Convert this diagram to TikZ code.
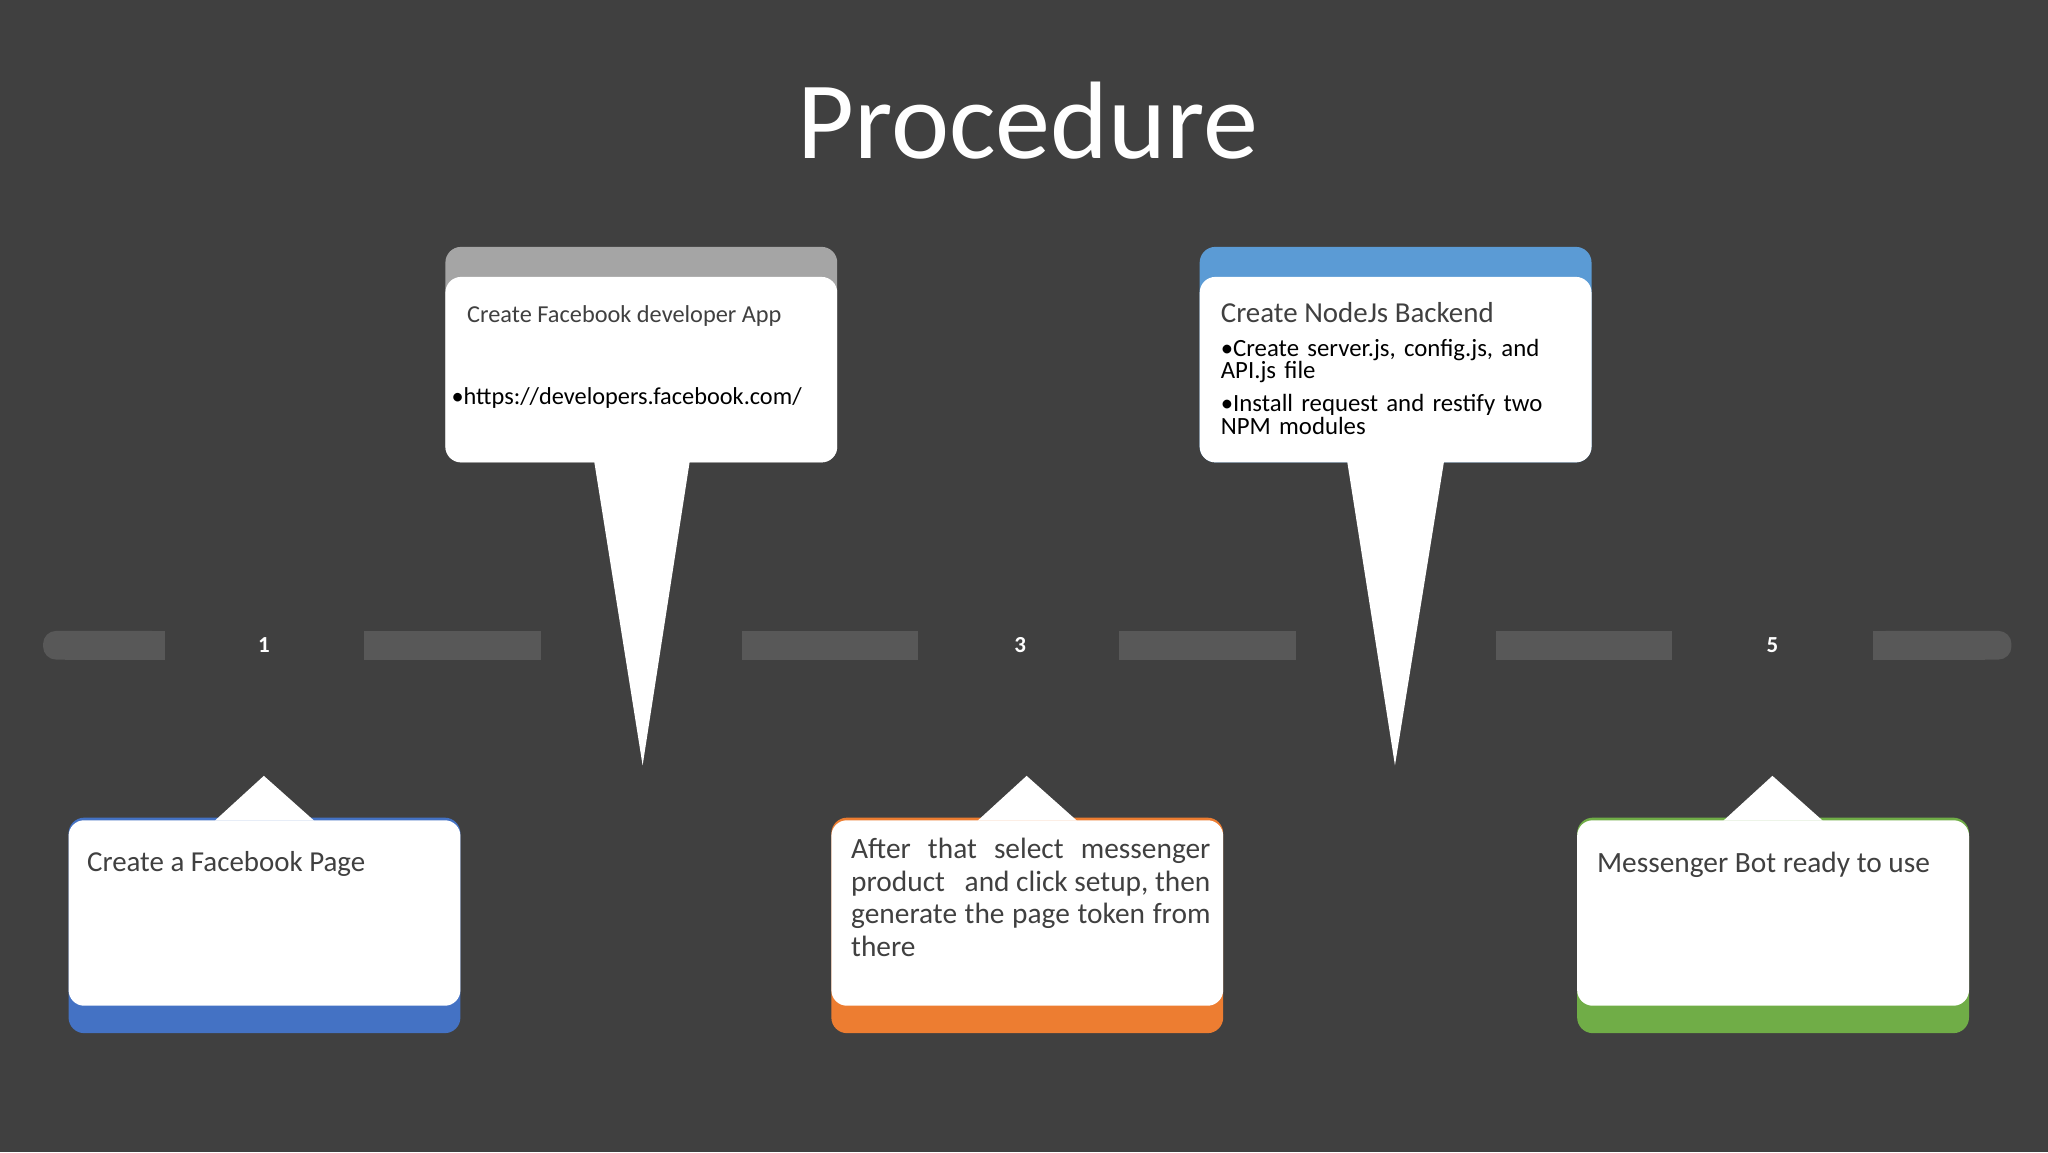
\documentclass[tikz,border=0pt]{standalone}
\usepackage{fontspec}
\setmainfont{Carlito}
\usetikzlibrary{positioning,calc}
\definecolor{bgdark}{RGB}{64,64,64}
\definecolor{bargray}{RGB}{88,88,88}
\definecolor{hdgray}{RGB}{165,165,165}
\definecolor{hdblue}{RGB}{91,155,213}
\definecolor{ftblue}{RGB}{68,114,196}
\definecolor{ftorange}{RGB}{237,125,49}
\definecolor{ftgreen}{RGB}{112,173,71}
\tikzset{
  panel/.style={
    rectangle,
    rounded corners=0.12cm,
    fill=white,
    minimum width=3.0cm,
    minimum height=1.42cm,
    inner sep=0pt},
  band/.style={
    rectangle,
    rounded corners=0.12cm,
    minimum width=3.0cm,
    minimum height=1.65cm,
    inner sep=0pt},
  seg/.style={fill=bargray},
  stepnum/.style={text=white, font=\fontsize{5pt}{6pt}\selectfont\bfseries},
  boxtext/.style={text=black!75, anchor=north west, inner sep=0pt, align=left},
}
\begin{document}
\begin{tikzpicture}[
    every node/.style={font=\fontsize{6.3pt}{7.4pt}\selectfont}
    ]

	\useasboundingbox (0,0) rectangle (15.68,8.82);
	\fill[bgdark] (0,0) rectangle (15.68,8.82);

	\node[text=white, font=\fontsize{24pt}{28pt}\selectfont] (title) at (7.87,7.9) {Procedure};

	% timeline
	\fill[seg, rounded corners=0.1cm] (0.33,3.77) rectangle (1.26,3.99);
	\fill[seg] (0.5,3.77) rectangle (1.26,3.99);
	\foreach \xa/\xb in {2.79/4.14, 5.68/7.03, 8.57/9.92, 11.45/12.80}
	  \fill[seg] (\xa,3.77) rectangle (\xb,3.99);
	\fill[seg, rounded corners=0.1cm] (14.34,3.77) rectangle (15.40,3.99);
	\fill[seg] (14.34,3.77) rectangle (15.2,3.99);
	\foreach \x/\n in {2.02/1, 4.92/2, 7.81/3, 10.68/4, 13.57/5}
	  \node[stepnum] (step\n) at (\x,3.88) {\n};

	% top callouts
	\node[band, fill=hdgray] (headA) at (4.91,6.105) {};
	\node[panel] (boxA) at (4.91,5.99) {};
	\fill[white] ($(boxA.south)+(-0.36,0.01)$) -- (step2 |- 0,2.96) -- ($(boxA.south)+(0.37,0.01)$) -- cycle;
	\node[boxtext, font=\fontsize{5.3pt}{6.3pt}\selectfont] (txtA) at (3.57,6.49) {Create Facebook developer App};
	\node[boxtext, text=black, font=\fontsize{5.3pt}{6.3pt}\selectfont] (urlA) at (3.45,5.86) {•https://developers.facebook.com/};

	\node[band, fill=hdblue] (headB) at (10.685,6.105) {};
	\node[panel] (boxB) at (10.685,5.99) {};
	\fill[white] ($(boxB.south)+(-0.37,0.01)$) -- (step4 |- 0,2.96) -- ($(boxB.south)+(0.37,0.01)$) -- cycle;
	\node[boxtext] (txtB) at (9.34,6.51) {Create NodeJs Backend};
	\node[boxtext, text=black, text width=2.7cm, font=\fontsize{5.4pt}{4.9pt}\selectfont] (bulB) at (9.34,6.23)
	  {•Create server.js, config.js, and API.js file\\[2.2pt]•Install request and restify two NPM modules};

	% bottom callouts
	\node[band, fill=ftblue] (footA) at (2.025,1.735) {};
	\node[panel] (boxC) at (2.025,1.83) {};
	\fill[white] ($(boxC.north)+(-0.38,-0.01)$) -- (step1 |- 0,2.88) -- ($(boxC.north)+(0.38,-0.01)$) -- cycle;
	\node[boxtext] (txtC) at (0.66,2.31) {Create a Facebook Page};

	\node[band, fill=ftorange] (footB) at (7.865,1.735) {};
	\node[panel] (boxD) at (7.865,1.83) {};
	\fill[white] ($(boxD.north)+(-0.38,-0.01)$) -- (7.86,2.88) -- ($(boxD.north)+(0.38,-0.01)$) -- cycle;
	\node[boxtext, text width=2.75cm, align=justify, font=\fontsize{6.4pt}{7.1pt}\selectfont] (txtD) at (6.51,2.41)
	  {After that select messenger product \ \ and click setup, then generate the page token from there};

	\node[band, fill=ftgreen] (footC) at (13.575,1.735) {};
	\node[panel] (boxE) at (13.575,1.83) {};
	\fill[white] ($(boxE.north)+(-0.38,-0.01)$) -- (step5 |- 0,2.88) -- ($(boxE.north)+(0.38,-0.01)$) -- cycle;
	\node[boxtext, text width=2.71cm, align=justify, font=\fontsize{6.4pt}{7.1pt}\selectfont] (txtE) at (12.22,2.3)
	  {Messenger Bot ready to use};

\end{tikzpicture}
\end{document}
